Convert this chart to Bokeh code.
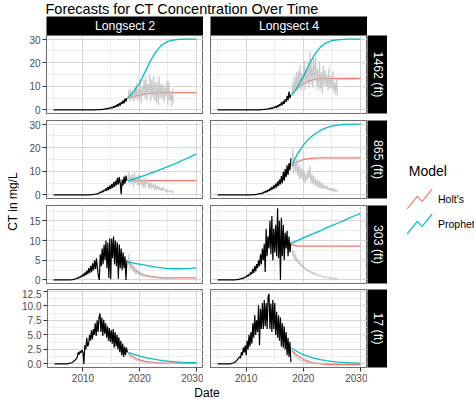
import numpy as np
from bokeh.plotting import figure
from bokeh.models import Range1d, LinearAxis, Grid, FixedTicker, Spacer, PrintfTickFormatter
from bokeh.layouts import row, column
from bokeh.embed import file_html
from bokeh.resources import INLINE
from bokeh.core.properties import value

# ---------------- texts ----------------
TITLE = "Forecasts for CT Concentration Over Time"
X_LABEL = "Date"
Y_LABEL = "CT in mg/L"
LEGEND_TITLE = "Model"
MODELS = ["Holt's", "Prophet"]
LONGSECTS = ["Longsect 2", "Longsect 4"]
DEPTHS = ["1462 (ft)", "865 (ft)", "303 (ft)", "17 (ft)"]
X_TICKS = [2010, 2020, 2030]
X_MINOR = [2005, 2015, 2025]
Y_TICKS = [[0, 10, 20, 30], [0, 10, 20, 30], [0, 5, 10, 15], [0, 2.5, 5, 7.5, 10, 12.5]]
Y_MINOR = [[5, 15, 25], [5, 15, 25], [2.5, 7.5, 12.5, 17.5], [1.25, 3.75, 6.25, 8.75, 11.25]]

# ---------------- time grids ----------------
T_OBS = 2005 + np.arange(78) / 6.0   # every two months, 2005.0 .. 2017.83
T_ACT = 2018 + np.arange(49) / 6.0   # every two months, 2018.0 .. 2026.0
T_FC = np.arange(2018, 2031)         # yearly forecasts 2018 .. 2030

Z6 = [0, 0, 0, 0, 0, 0]  # one year of zero readings

# ---------------- Longsect 2 / 1462 ft ----------------
obs_l2_1462 = (Z6 * 6 + [
    0, 0, 0, 0.02, 0.03, 0.05,
    0.05, 0.08, 0.06, 0.1, 0.08, 0.12,
    0.15, 0.2, 0.15, 0.3, 0.2, 0.35,
    0.3, 0.6, 0.4, 0.8, 0.5, 0.9,
    0.7, 1.2, 0.8, 1.6, 1.0, 1.9,
    1.3, 2.4, 1.5, 2.9, 1.9, 3.3,
    2.6, 4.0, 2.8, 4.9, 3.5, 5.0])
act_l2_1462 = [5.0, 8.5, 3.5, 9.0, 4.5, 7.5,
               3.5, 10.0, 5.0, 11.5, 4.0, 9.0,
               4.5, 12.5, 3.0, 10.0, 6.0, 13.0,
               5.0, 14.5, 4.0, 11.0, 7.0, 15.0,
               3.5, 13.0, 5.5, 14.5, 4.0, 12.0,
               3.0, 12.0, 2.0, 14.0, 5.0, 11.0,
               4.5, 11.0, 3.0, 9.5, 5.5, 12.5,
               2.0, 12.0, 4.0, 8.0, 1.5, 9.0,
               3.0]
holt_l2_1462 = [5.0, 5.7, 6.3, 6.8, 7.0, 7.2, 7.3, 7.3, 7.3, 7.3, 7.3, 7.3, 7.3]
prophet_l2_1462 = [5.0, 7.8, 11.0, 16.0, 21.0, 25.0, 27.6, 29.0, 29.6, 29.9, 30.0, 30.0, 30.0]

# ---------------- Longsect 4 / 1462 ft ----------------
obs_l4_1462 = (Z6 * 6 + [
    0, 0, 0.02, 0.03, 0.04, 0.05,
    0.05, 0.1, 0.07, 0.12, 0.1, 0.15,
    0.2, 0.3, 0.2, 0.4, 0.3, 0.5,
    0.4, 0.8, 0.5, 1.0, 0.6, 1.2,
    0.9, 1.6, 1.0, 2.0, 1.3, 2.4,
    1.8, 3.2, 2.0, 3.8, 2.6, 4.6,
    3.4, 6.0, 4.0, 7.8, 5.0, 6.5])
act_l4_1462 = [6.5, 12.0, 6.0, 14.5, 8.0, 16.0,
               7.5, 17.0, 9.0, 19.0, 8.0, 15.5,
               10.0, 21.0, 8.5, 18.0, 11.0, 20.5,
               9.0, 24.5, 11.0, 20.0, 9.5, 22.0,
               12.0, 22.0, 10.0, 17.5, 8.5, 20.5,
               9.0, 16.0, 7.0, 19.0, 10.5, 17.0,
               10.0, 15.0, 8.0, 18.0, 9.0, 14.5,
               9.0, 16.5, 7.5, 12.0, 6.5, 13.0,
               6.0]
holt_l4_1462 = [6.5, 9.3, 11.2, 12.3, 12.9, 13.2, 13.3, 13.3, 13.3, 13.3, 13.3, 13.3, 13.3]
prophet_l4_1462 = [6.5, 9.8, 14.0, 19.0, 23.5, 26.6, 28.4, 29.3, 29.7, 29.9, 30.0, 30.0, 30.0]

# ---------------- Longsect 2 / 865 ft ----------------
obs_l2_865 = (Z6 * 6 + [
    0.02, 0.05, 0.05, 0.1, 0.1, 0.15,
    0.2, 0.3, 0.3, 0.5, 0.4, 0.7,
    0.8, 1.3, 0.9, 1.7, 1.2, 2.2,
    1.6, 2.8, 1.8, 3.4, 2.2, 3.9,
    2.6, 4.6, 3.0, 5.4, 3.4, 6.0,
    4.0, 7.2, 4.5, 7.6, 5.0, 0.3,
    6.5, 4.0, 7.8, 4.8, 8.2, 6.0])
act_l2_865 = [6.0, 9.8, 4.0, 8.5, 5.0, 9.0,
              3.0, 9.5, 5.0, 7.5, 4.0, 8.5,
              3.5, 8.0, 4.0, 6.5, 3.0, 7.0,
              3.0, 7.0, 4.5, 5.5, 2.5, 6.0,
              2.5, 5.0, 3.0, 4.5, 2.0, 4.5,
              2.0, 4.0, 2.5, 3.5, 1.8, 3.0,
              1.5, 3.5, 2.0, 2.5, 1.2, 2.5,
              1.0, 2.0, 1.5, 1.8, 1.0, 1.5,
              1.0]
holt_l2_865 = [6.0, 6.1, 6.1, 6.1, 6.1, 6.1, 6.1, 6.1, 6.1, 6.1, 6.1, 6.1, 6.1]
prophet_l2_865 = [6.0, 6.7, 7.5, 8.3, 9.2, 10.1, 11.0, 12.0, 13.0, 14.0, 15.1, 16.2, 17.3]

# ---------------- Longsect 4 / 865 ft ----------------
obs_l4_865 = (Z6 * 6 + [
    0.05, 0.1, 0.1, 0.2, 0.15, 0.3,
    0.3, 0.5, 0.4, 0.7, 0.5, 0.9,
    0.8, 1.4, 1.0, 1.8, 1.2, 2.2,
    1.6, 2.8, 2.0, 3.4, 2.4, 4.0,
    2.8, 4.8, 3.2, 5.6, 3.8, 6.5,
    4.5, 8.0, 5.0, 9.8, 6.0, 11.0,
    7.5, 12.5, 8.5, 13.5, 10.5, 15.5])
act_l4_865 = [13.0, 19.5, 9.0, 16.0, 10.0, 15.0,
              8.0, 13.0, 6.5, 12.0, 7.0, 11.0,
              5.5, 10.0, 5.0, 9.0, 6.0, 10.5,
              7.0, 12.5, 5.0, 9.0, 4.5, 8.0,
              4.0, 7.0, 3.5, 6.5, 3.0, 6.0,
              3.0, 5.5, 2.5, 4.5, 2.5, 4.0,
              2.5, 4.0, 2.0, 3.0, 1.8, 3.0,
              1.5, 3.0, 1.5, 2.5, 1.2, 2.2,
              1.5]
holt_l4_865 = [12.0, 14.0, 15.0, 15.4, 15.6, 15.7, 15.7, 15.7, 15.7, 15.7, 15.7, 15.7, 15.7]
prophet_l4_865 = [12.5, 17.5, 21.0, 23.8, 25.8, 27.3, 28.4, 29.1, 29.5, 29.8, 29.9, 30.0, 30.0]

# ---------------- Longsect 2 / 303 ft ----------------
obs_l2_303 = (Z6 * 3 + [
    0.02, 0.05, 0.1, 0.15, 0.2, 0.3,
    0.3, 0.6, 0.4, 0.8, 0.6, 1.1,
    0.8, 1.5, 1.0, 1.9, 1.2, 2.4,
    1.5, 3.0, 1.8, 3.6, 2.0, 4.2,
    2.5, 5.0, 2.8, 5.5, 3.0, 1.0,
    0.0, 6.5, 3.5, 8.0, 4.0, 9.0,
    5.0, 10.0, 3.0, 9.5, 0.5, 10.5,
    0.2, 10.5, 5.5, 11.0, 4.0, 10.0,
    3.5, 9.5, 0.3, 9.0, 3.0, 8.0,
    2.5, 7.0, 3.0, 6.0, 0.0, 5.0])
act_l2_303 = [4.5, 6.5, 2.5, 5.0, 2.8, 4.0,
              2.0, 3.5, 1.5, 2.8, 1.4, 2.3,
              1.2, 2.0, 1.0, 1.6, 0.9, 1.4,
              0.9, 1.3, 0.7, 1.1, 0.7, 1.0,
              0.6, 0.9, 0.5, 0.8, 0.5, 0.7,
              0.5, 0.6, 0.4, 0.55, 0.4, 0.5,
              0.4, 0.5, 0.3, 0.45, 0.3, 0.4,
              0.3, 0.4, 0.3, 0.35, 0.25, 0.3,
              0.3]
holt_l2_303 = [4.5, 2.8, 1.8, 1.2, 0.9, 0.7, 0.6, 0.55, 0.55, 0.55, 0.55, 0.55, 0.55]
prophet_l2_303 = [4.6, 4.3, 4.0, 3.75, 3.5, 3.25, 3.05, 2.9, 2.85, 2.85, 2.9, 2.95, 3.05]

# ---------------- Longsect 4 / 303 ft ----------------
obs_l4_303 = (Z6 * 3 + [
    0.02, 0.05, 0.08, 0.1, 0.15, 0.2,
    0.25, 0.4, 0.3, 0.6, 0.5, 0.8,
    0.7, 1.2, 0.9, 1.5, 1.2, 2.0,
    1.5, 2.8, 1.8, 3.5, 2.2, 4.0,
    3.0, 5.0, 3.5, 6.5, 4.0, 8.0,
    5.0, 9.2, 2.0, 13.0, 6.0, 11.0,
    8.0, 15.0, 6.5, 16.2, 5.0, 13.0,
    7.0, 14.0, 6.0, 18.2, 5.5, 15.0,
    0.0, 15.8, 6.0, 14.0, 5.0, 12.0,
    8.0, 12.5, 6.0, 11.0, 7.0, 9.5])
act_l4_303 = [8.0, 6.0, 7.5, 5.0, 6.5, 4.5,
              5.5, 4.0, 4.8, 3.5, 4.2, 3.0,
              3.8, 2.8, 3.2, 2.3, 2.9, 2.1,
              2.6, 1.9, 2.2, 1.6, 2.0, 1.4,
              1.8, 1.3, 1.5, 1.1, 1.3, 0.95,
              1.2, 0.9, 1.0, 0.7, 0.85, 0.6,
              0.8, 0.6, 0.7, 0.5, 0.6, 0.45,
              0.5, 0.4, 0.45, 0.35, 0.4, 0.3,
              0.3]
holt_l4_303 = [9.0, 8.6, 8.6, 8.6, 8.6, 8.6, 8.6, 8.6, 8.6, 8.6, 8.6, 8.6, 8.6]
prophet_l4_303 = [9.4, 10.0, 10.7, 11.3, 11.9, 12.5, 13.2, 13.8, 14.4, 15.0, 15.7, 16.3, 16.9]

# ---------------- Longsect 2 / 17 ft ----------------
obs_l2_17 = (Z6 * 2 + [
    0.0, 0.02, 0.05, 0.08, 0.1, 0.15,
    0.2, 0.3, 0.4, 0.6, 0.7, 0.9,
    1.2, 2.0, 1.6, 2.2, 1.9, 2.4,
    2.0, 0.0, 3.2, 2.5, 4.5, 3.0,
    3.5, 5.0, 4.0, 5.8, 4.2, 6.0,
    5.0, 7.0, 4.8, 7.5, 5.5, 8.0,
    8.7, 5.5, 8.0, 4.8, 7.6, 5.2,
    7.0, 4.5, 6.5, 4.0, 6.2, 3.8,
    5.8, 3.5, 6.0, 2.8, 5.5, 3.0,
    5.0, 2.5, 4.6, 2.0, 4.0, 1.5,
    3.5, 1.2, 3.0, 1.5, 2.8, 2.0])
act_l2_17 = [1.8, 1.5, 1.3, 1.15, 1.0, 0.9,
             0.85, 0.75, 0.65, 0.6, 0.55, 0.5,
             0.45, 0.42, 0.38, 0.35, 0.32, 0.3,
             0.28, 0.26, 0.24, 0.22, 0.21, 0.2,
             0.18, 0.17, 0.16, 0.15, 0.15, 0.14,
             0.13, 0.13, 0.12, 0.12, 0.11, 0.1,
             0.1, 0.1, 0.1, 0.09, 0.09, 0.09,
             0.08, 0.08, 0.08, 0.08, 0.08, 0.08,
             0.08]
holt_l2_17 = [1.8, 1.1, 0.7, 0.45, 0.3, 0.22, 0.17, 0.15, 0.14, 0.13, 0.13, 0.13, 0.13]
prophet_l2_17 = [2.0, 1.65, 1.35, 1.1, 0.9, 0.72, 0.58, 0.47, 0.38, 0.31, 0.26, 0.22, 0.2]

# ---------------- Longsect 4 / 17 ft ----------------
obs_l4_17 = (Z6 * 2 + [
    0.0, 0.02, 0.05, 0.1, 0.15, 0.2,
    0.3, 0.4, 0.6, 0.8, 1.0, 1.2,
    1.0, 2.0, 1.5, 2.8, 2.0, 3.2,
    1.5, 4.0, 2.5, 5.0, 3.0, 5.5,
    3.5, 7.0, 4.5, 8.4, 5.0, 7.5,
    5.5, 10.1, 3.2, 9.5, 6.0, 10.5,
    6.0, 11.0, 6.5, 10.5, 6.0, 11.5,
    12.1, 6.0, 10.4, 5.5, 11.0, 6.0,
    10.5, 5.0, 9.0, 4.5, 8.4, 4.0,
    8.0, 3.0, 7.0, 2.8, 6.5, 2.5,
    5.5, 1.5, 4.5, 1.2, 3.8, 0.3])
act_l4_17 = [2.4, 2.0, 1.7, 1.5, 1.3, 1.1,
             0.95, 0.85, 0.75, 0.65, 0.58, 0.5,
             0.45, 0.4, 0.36, 0.32, 0.29, 0.26,
             0.24, 0.22, 0.2, 0.19, 0.17, 0.16,
             0.15, 0.14, 0.13, 0.12, 0.12, 0.11,
             0.1, 0.1, 0.1, 0.09, 0.09, 0.09,
             0.08, 0.08, 0.08, 0.08, 0.07, 0.07,
             0.07, 0.07, 0.07, 0.07, 0.07, 0.07,
             0.07]
holt_l4_17 = [2.3, 1.4, 0.8, 0.4, 0.15, 0.0, -0.08, -0.12, -0.12, -0.12, -0.12, -0.12, -0.12]
prophet_l4_17 = [2.7, 2.1, 1.6, 1.25, 0.95, 0.72, 0.55, 0.42, 0.32, 0.25, 0.2, 0.17, 0.15]

PANELS = {
    (0, 0): (obs_l2_1462, act_l2_1462, holt_l2_1462, prophet_l2_1462),
    (0, 1): (obs_l4_1462, act_l4_1462, holt_l4_1462, prophet_l4_1462),
    (1, 0): (obs_l2_865, act_l2_865, holt_l2_865, prophet_l2_865),
    (1, 1): (obs_l4_865, act_l4_865, holt_l4_865, prophet_l4_865),
    (2, 0): (obs_l2_303, act_l2_303, holt_l2_303, prophet_l2_303),
    (2, 1): (obs_l4_303, act_l4_303, holt_l4_303, prophet_l4_303),
    (3, 0): (obs_l2_17, act_l2_17, holt_l2_17, prophet_l2_17),
    (3, 1): (obs_l4_17, act_l4_17, holt_l4_17, prophet_l4_17),
}
for key, (o, a, h, pr) in PANELS.items():
    assert len(o) == len(T_OBS), (key, len(o))
    assert len(a) == len(T_ACT), (key, len(a))
    assert len(h) == len(T_FC) and len(pr) == len(T_FC), key

# ---------------- style ----------------
FONT = "Liberation Sans"
HOLT_COLOR = "#F8766D"
PROPHET_COLOR = "#00BFC4"
OBS_COLOR = "black"
ACT_COLOR = "#BDBDBD"
TICK_TEXT = "#4D4D4D"
X_RANGE = (2003.75, 2031.25)
Y_RANGES = [(-1.5, 31.5), (-1.5, 31.5), (-0.9, 18.9), (-0.62, 12.82)]
PANEL_W, PANEL_H = 157, 78
ROW_GAPS = [7, 7, 6]
LEFT_AX = 27
BOTTOM_AX = 18
YLAB_W = 19
STRIP_W, STRIP_H = 20, 19
COL_GAP = 7
LEGEND_W = 87


def base_fig(w, h, xr, yr, **kw):
    p = figure(width=w, height=h, x_range=xr, y_range=yr,
               x_axis_location=None, y_axis_location=None,
               toolbar_location=None, output_backend="svg",
               min_border=0, **kw)
    p.grid.visible = False
    p.outline_line_color = None
    p.border_fill_color = "white"
    p.background_fill_color = "white"
    return p


def style_axis(ax):
    ax.axis_line_color = None
    ax.major_tick_line_color = "#333333"
    ax.major_tick_out = 4
    ax.major_tick_in = 0
    ax.minor_tick_line_color = None
    ax.major_label_standoff = 2
    ax.major_label_text_font = FONT
    ax.major_label_text_font_size = "10px"
    ax.major_label_text_color = TICK_TEXT


def strip_fig(w, h, label, angle=0.0, bottom=0):
    p = base_fig(w, h + bottom, Range1d(0, 1), Range1d(0, 1), min_border_bottom=bottom)
    p.background_fill_color = "black"
    p.text(x=[0.5], y=[0.5], text=[label], angle=angle, text_color="white",
           text_font=value(FONT), text_font_size="12.3px",
           text_align="center", text_baseline="middle")
    return p


def panel_fig(r, c):
    obs, act, holt, prop = PANELS[(r, c)]
    last = r == 3
    bottom = BOTTOM_AX if last else ROW_GAPS[r]
    left = LEFT_AX if c == 0 else 0
    p = base_fig(PANEL_W + left, PANEL_H + bottom, Range1d(*X_RANGE), Range1d(*Y_RANGES[r]),
                 min_border_left=left, min_border_bottom=bottom)
    p.outline_line_color = "#6E6E6E"
    p.outline_line_width = 1.1
    p.add_layout(Grid(dimension=0, ticker=FixedTicker(ticks=X_TICKS, minor_ticks=X_MINOR),
                      grid_line_color="#D6D6D6", grid_line_width=1,
                      minor_grid_line_color="#E8E8E8", minor_grid_line_width=0.8), "center")
    p.add_layout(Grid(dimension=1, ticker=FixedTicker(ticks=Y_TICKS[r], minor_ticks=Y_MINOR[r]),
                      grid_line_color="#D6D6D6", grid_line_width=1,
                      minor_grid_line_color="#E8E8E8", minor_grid_line_width=0.8), "center")
    if c == 0:
        ax = LinearAxis(ticker=FixedTicker(ticks=Y_TICKS[r]))
        if r == 3:
            ax.formatter = PrintfTickFormatter(format="%.1f")
        style_axis(ax)
        p.add_layout(ax, "left")
    if last:
        ax = LinearAxis(ticker=FixedTicker(ticks=X_TICKS))
        style_axis(ax)
        p.add_layout(ax, "below")
    p.line(T_OBS, obs, line_color=OBS_COLOR, line_width=1.2)
    p.line(T_FC, holt, line_color=HOLT_COLOR, line_width=1.3)
    p.line(T_ACT, act, line_color=ACT_COLOR, line_width=1.1, line_alpha=0.8)
    p.line(T_FC, prop, line_color=PROPHET_COLOR, line_width=1.3)
    return p


# ---------------- assemble ----------------
grid_w = LEFT_AX + PANEL_W + COL_GAP + PANEL_W + STRIP_W

strip_row = row(Spacer(width=LEFT_AX, height=STRIP_H),
                strip_fig(PANEL_W, STRIP_H, LONGSECTS[0]),
                Spacer(width=COL_GAP, height=STRIP_H),
                strip_fig(PANEL_W, STRIP_H, LONGSECTS[1]),
                Spacer(width=STRIP_W, height=STRIP_H))

rows = [strip_row]
for r in range(4):
    bottom = BOTTOM_AX if r == 3 else ROW_GAPS[r]
    rows.append(row(panel_fig(r, 0),
                    Spacer(width=COL_GAP, height=PANEL_H + bottom),
                    panel_fig(r, 1),
                    strip_fig(STRIP_W, PANEL_H, DEPTHS[r], angle=-np.pi / 2, bottom=bottom)))

grid_h = STRIP_H + 4 * PANEL_H + sum(ROW_GAPS) + BOTTOM_AX
date_h = 14
date_fig = base_fig(grid_w, date_h, Range1d(0, grid_w), Range1d(date_h, 0))
date_fig.text(x=[LEFT_AX + (PANEL_W * 2 + COL_GAP) / 2], y=[7], text=[X_LABEL],
              text_font=value(FONT), text_font_size="12px", text_color="black",
              text_align="center", text_baseline="middle")
rows.append(date_fig)
grid_col = column(*rows)

body_h = grid_h + date_h
ylab_fig = base_fig(YLAB_W, body_h, Range1d(0, YLAB_W), Range1d(body_h, 0))
ylab_fig.text(x=[12.5], y=[STRIP_H + (4 * PANEL_H + sum(ROW_GAPS)) / 2], text=[Y_LABEL],
              angle=np.pi / 2, text_font=value(FONT), text_font_size="12px", text_color="black",
              text_align="center", text_baseline="middle")

leg = base_fig(LEGEND_W, body_h, Range1d(0, LEGEND_W), Range1d(body_h, 0))
leg.text(x=[21.3], y=[154.7], text=[LEGEND_TITLE], text_font=value(FONT), text_font_size="14px",
         text_color="black", text_align="left", text_baseline="middle")
KEY_SHAPE_X = [0.0, 0.4, 0.6, 1.0]
KEY_SHAPE_Y = [0.1, 0.6, 0.4, 0.9]
for i, (name, color) in enumerate(zip(MODELS, [HOLT_COLOR, PROPHET_COLOR])):
    cy = 182.3 + 25 * i
    kx = [19.7 + 25 * k for k in KEY_SHAPE_X]
    ky = [cy + 12.5 - 25 * k for k in KEY_SHAPE_Y]
    leg.line(kx, ky, line_color=color, line_width=1.2)
    leg.text(x=[50.5], y=[cy], text=[name], text_font=value(FONT), text_font_size="10.5px",
             text_color="black", text_align="left", text_baseline="middle")

title_h = 16
total_w = YLAB_W + grid_w + LEGEND_W
title_fig = base_fig(total_w, title_h, Range1d(0, total_w), Range1d(title_h, 0))
title_fig.text(x=[45], y=[0.5], text=[TITLE], text_font=value(FONT), text_font_size="14.5px",
               text_color="black", text_align="left", text_baseline="top")

root = column(title_fig, row(ylab_fig, grid_col, leg))

open("out.html", "w").write(file_html(root, INLINE))
